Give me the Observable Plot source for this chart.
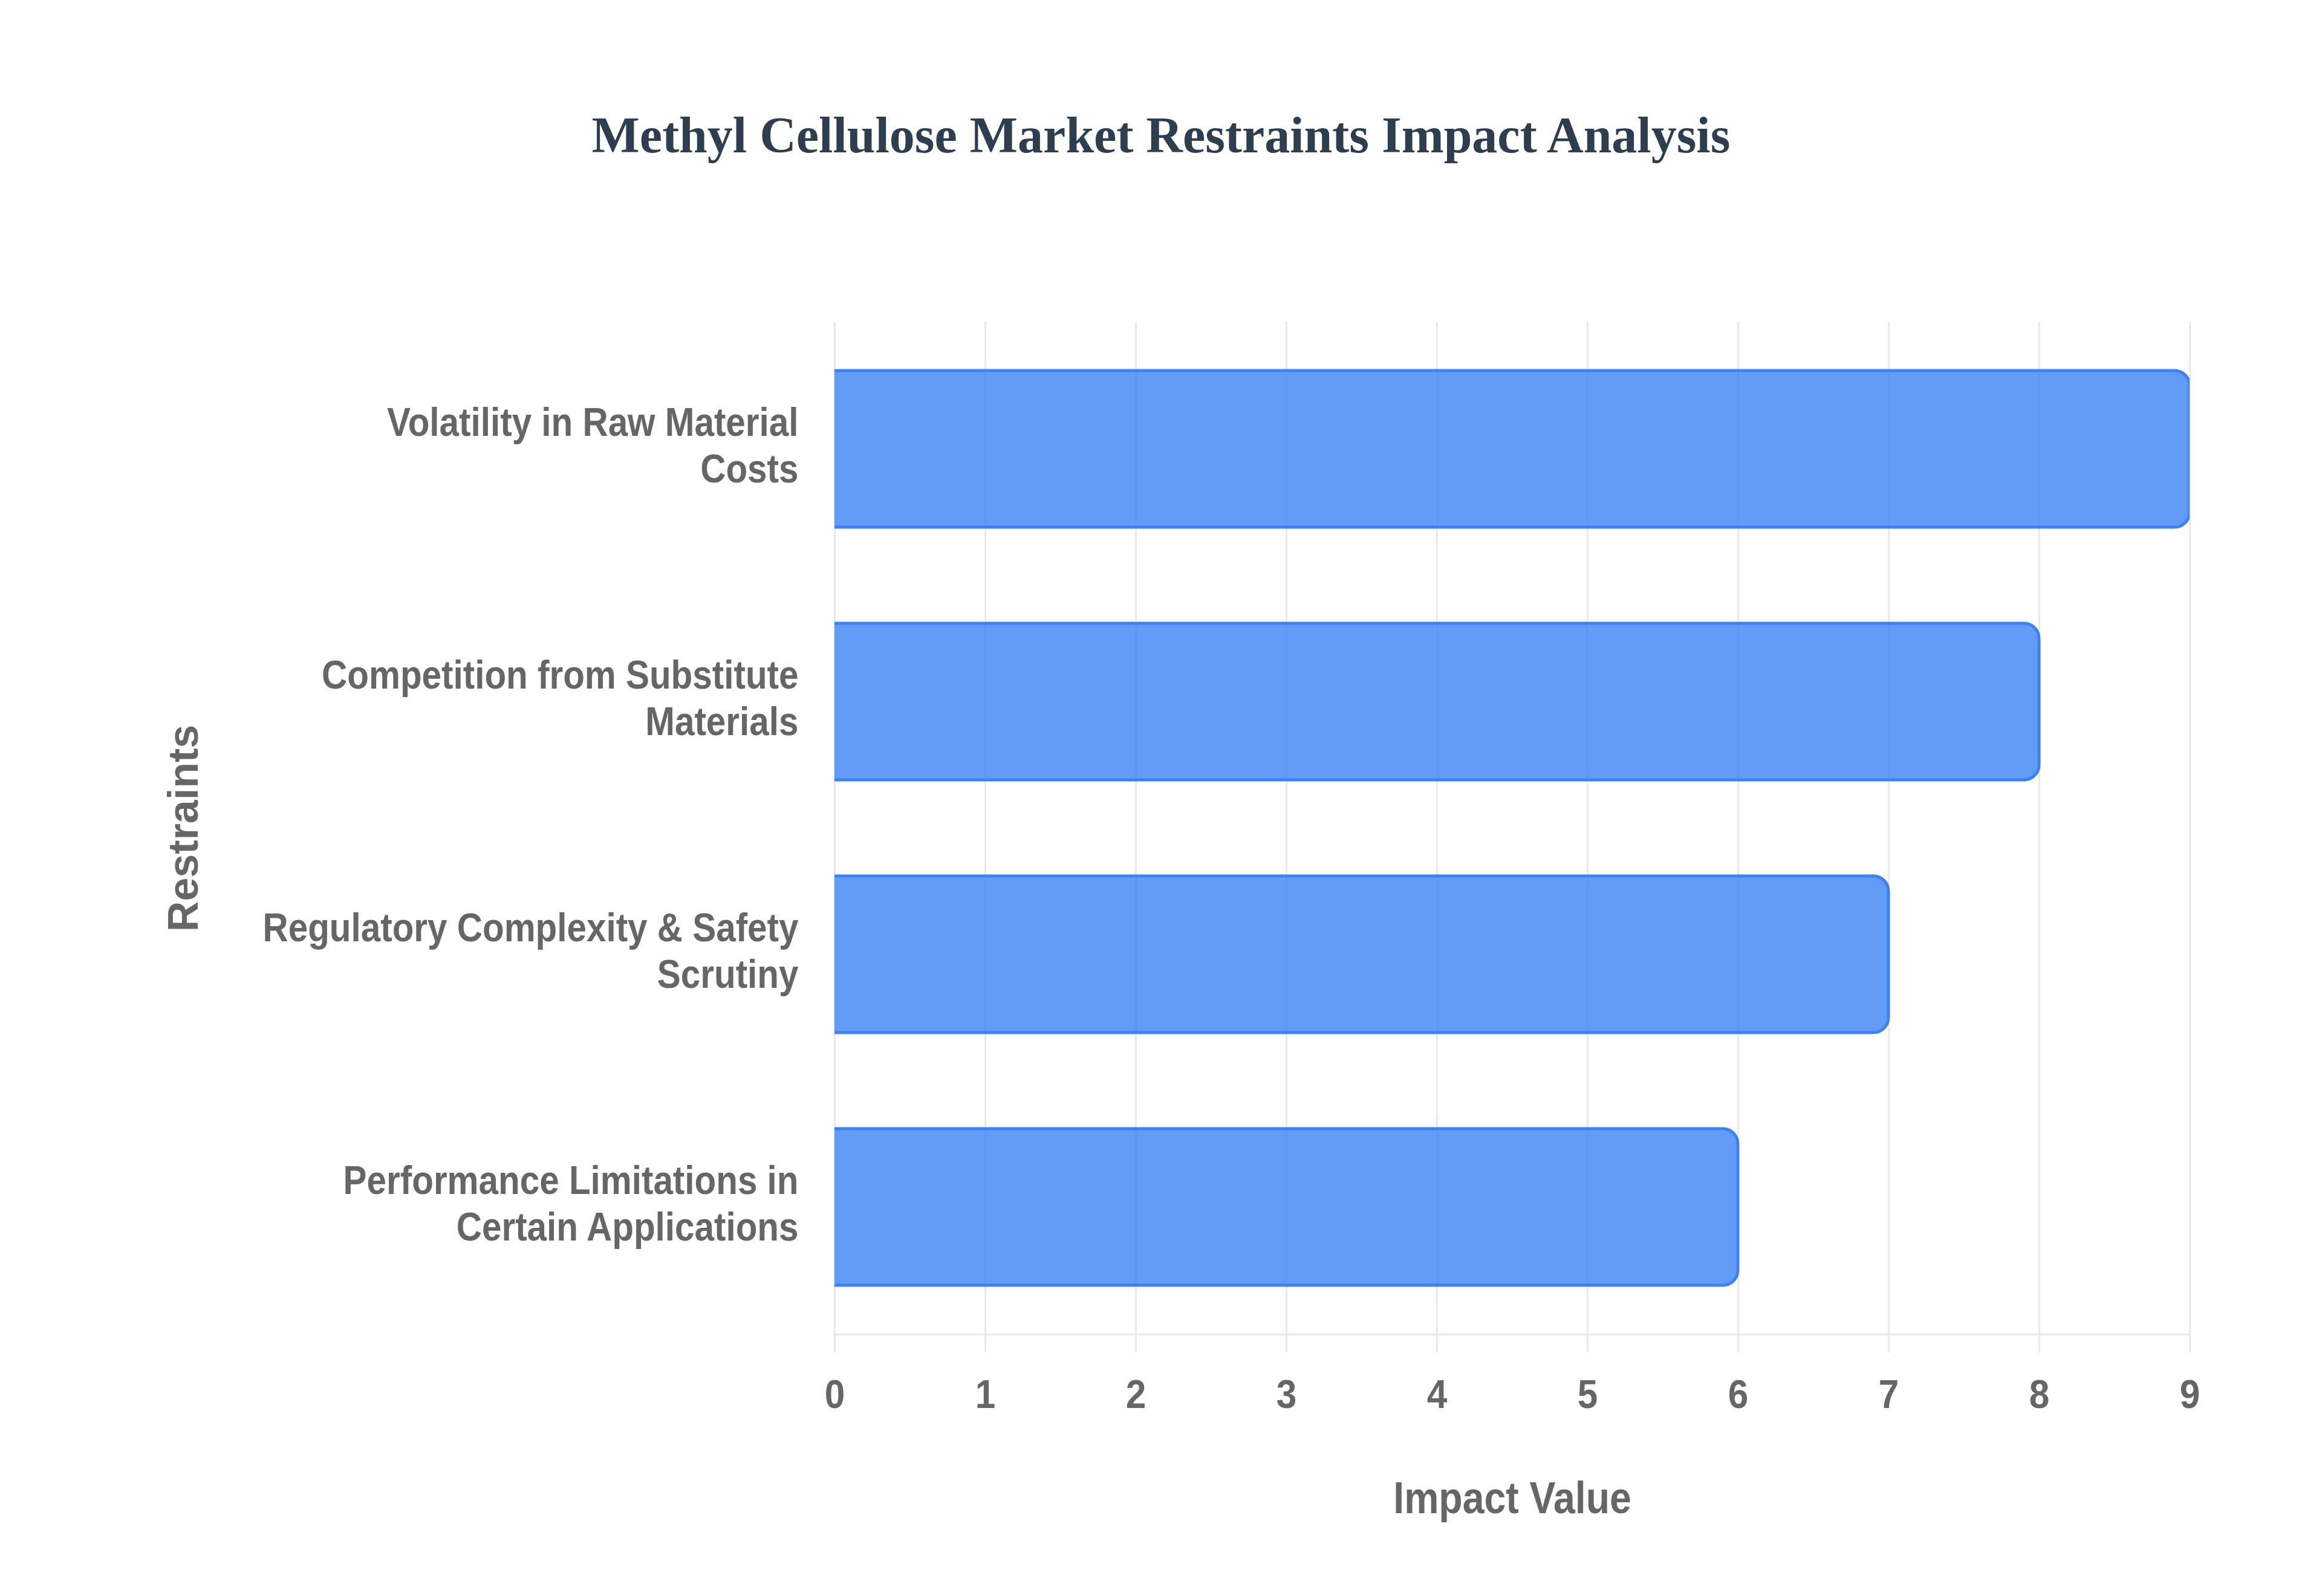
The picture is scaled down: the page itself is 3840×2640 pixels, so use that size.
<!DOCTYPE html>
<html>
<head>
<meta charset="utf-8">
<script src="https://cdn.jsdelivr.net/npm/d3@7"></script>
<script src="https://cdn.jsdelivr.net/npm/@observablehq/plot@0.6"></script>
<style>
html, body { margin: 0; padding: 0; background: #ffffff; }
#title {
  width: 3840px; height: 330px; box-sizing: border-box; padding-top: 182px;
  text-align: center; white-space: nowrap;
  font: bold 84px/84px 'Liberation Serif', 'Times New Roman', serif;
  color: #2c3e50;
}
</style>
</head>
<body>
<div id="title">Methyl Cellulose Market Restraints Impact Analysis</div>
<div id="chart"></div>
<script>
const restraints = [
  "Volatility in Raw Material Costs",
  "Competition from Substitute Materials",
  "Regulatory Complexity & Safety Scrutiny",
  "Performance Limitations in Certain Applications"
];
const impactValues = [9, 8, 7, 6];
const restraintTickLabels = [
  "Volatility in Raw Material\nCosts",
  "Competition from Substitute\nMaterials",
  "Regulatory Complexity & Safety\nScrutiny",
  "Performance Limitations in\nCertain Applications"
];
const impactTicks = [0, 1, 2, 3, 4, 5, 6, 7, 8, 9];
const xAxisTitle = "Impact Value";
const yAxisTitle = "Restraints";

const rows = restraints.map((r, i) => ({restraint: r, impact: impactValues[i]}));
const tickLabelOf = new Map(restraints.map((r, i) => [r, restraintTickLabels[i]]));

const sans = "'Liberation Sans', Arial, Helvetica, sans-serif";

const chart = Plot.plot({
  width: 3840,
  height: 2310,
  marginTop: 202,
  marginBottom: 433,
  marginLeft: 1380,
  marginRight: 219,
  style: {background: "#ffffff", fontFamily: sans, overflow: "visible"},
  x: {domain: [0, 9], axis: null},
  y: {domain: restraints, axis: null, paddingInner: 0.38, paddingOuter: 0.19},
  marks: [
    Plot.gridX(impactTicks, {stroke: "#e6e6e6", strokeOpacity: 1, strokeWidth: 2.5}),
    Plot.frame({anchor: "bottom", stroke: "#e6e6e6", strokeOpacity: 1, strokeWidth: 2.5}),
    Plot.axisX(impactTicks, {anchor: "bottom", tickSize: 30, tickFormat: () => "", color: "#e6e6e6", strokeWidth: 2.5, label: null}),
    Plot.axisX(impactTicks, {anchor: "bottom", tickSize: 0, tickPadding: 74, color: "#666666", fontSize: 67, fontWeight: "bold", tickFormat: d => String(d), label: null}),
    Plot.barX(rows, {x: "impact", y: "restraint", fill: "#3b82f6", fillOpacity: 0.8, stroke: "#3b82f6", strokeWidth: 5, rx2: 25, insetLeft: -12, clip: true}),
    Plot.axisY({anchor: "left", tickSize: 0, tickPadding: 60, color: "#666666", fontSize: 66, fontWeight: "bold", lineHeight: 1.167, dy: -8, tickFormat: d => tickLabelOf.get(d), label: null}),
    Plot.text([xAxisTitle], {text: d => d, frameAnchor: "bottom", lineAnchor: "top", dy: 243, fill: "#666666", fontSize: 74, fontWeight: "bold"}),
    Plot.text([yAxisTitle], {text: d => d, frameAnchor: "left", rotate: -90, textAnchor: "middle", lineAnchor: "middle", dx: -1076, fill: "#666666", fontSize: 70, fontWeight: "bold"})
  ]
});

// the reference's sans-serif is narrower than Liberation Sans: condense glyphs horizontally around each anchor
function condenseEl(el, k) {
  const t = el.getAttribute("transform") || "";
  const x = +(el.getAttribute("x") || 0);
  el.setAttribute("transform", `${t} translate(${x},0) scale(${k},1) translate(${-x},0)`.trim());
}
const yLabelSet = new Set(restraintTickLabels.map(s => s.replace("\n", "")));
chart.querySelectorAll("text").forEach(el => {
  const s = el.textContent;
  if (yLabelSet.has(s)) condenseEl(el, 0.885);
  else if (/^\d$/.test(s)) condenseEl(el, 0.9);
  else if (s === xAxisTitle) condenseEl(el, 0.87);
});

document.getElementById("chart").appendChild(chart);
</script>
</body>
</html>
